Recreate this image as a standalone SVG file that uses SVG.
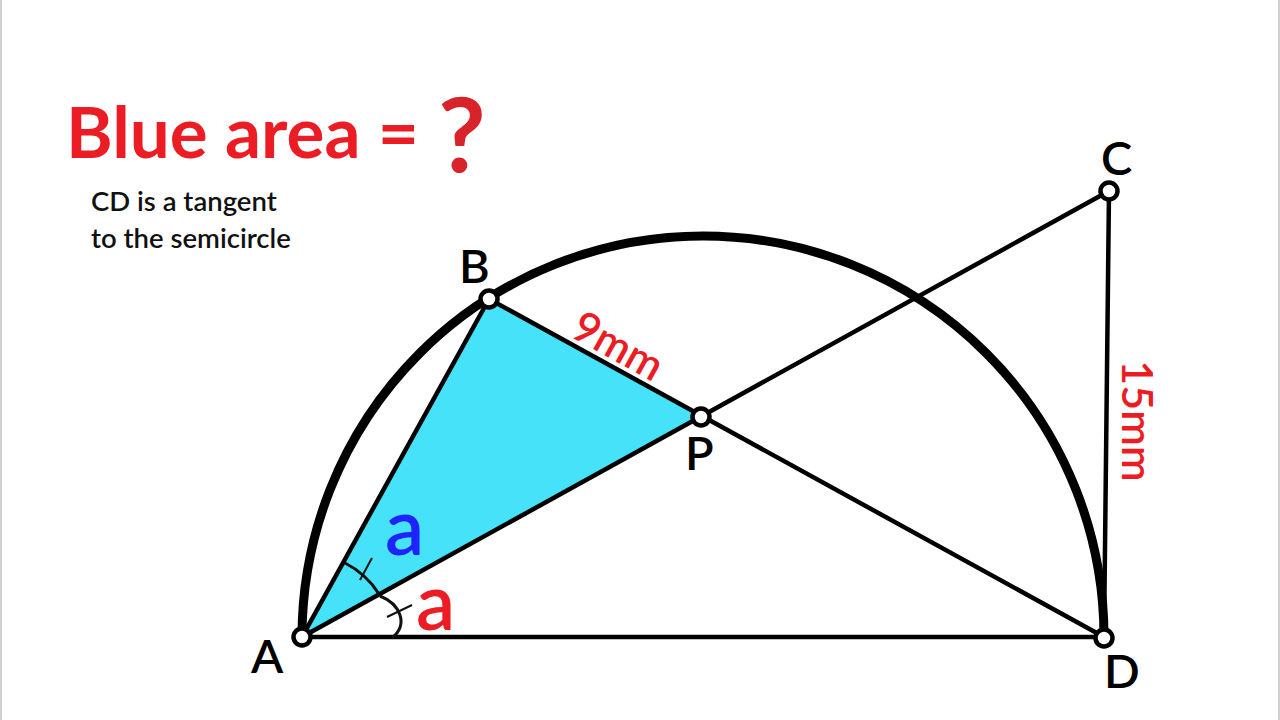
<svg xmlns="http://www.w3.org/2000/svg" width="1280" height="720" viewBox="0 0 1280 720">
<style>
.ln{stroke:#000;stroke-width:4.5;fill:none;stroke-linecap:round}
.pt{fill:#fff;stroke:#000;stroke-width:4.5}
.f{font-family:Lato,"Open Sans",sans-serif}
.lbl{font-family:Lato,"Open Sans",sans-serif;font-size:47px;font-weight:600;fill:#000}
.red{fill:#ec1c24}
</style>
<rect x="0" y="0" width="1280" height="720" fill="#fff"/>
<line x1="1" y1="0" x2="1" y2="720" stroke="#d0d0d0" stroke-width="2"/>
<line x1="1279" y1="0" x2="1279" y2="720" stroke="#d0d0d0" stroke-width="2"/>
<g id="title">
<text x="66" y="158" class="f red" font-weight="bold" font-size="71">Blue area =</text>
<text x="438" y="172" class="f" font-weight="bold" font-size="104" fill="#d9232b">?</text>
<text x="91" y="211" class="f" font-weight="600" font-size="27.5" fill="#111">CD is a tangent</text>
<text x="91" y="248" class="f" font-weight="600" font-size="27.5" fill="#111">to the semicircle</text>
</g>
<g id="blue-triangle">
<polygon points="302,637 489,299 701,417" fill="#45e2fa"/>
</g>
<g id="connectors">
<path d="M302,637 A401,401 0 0 1 1104,637" fill="none" stroke="#000" stroke-width="9"/>
<line class="ln" x1="302" y1="637" x2="1104" y2="637"/>
<line class="ln" x1="302" y1="637" x2="489" y2="299"/>
<line class="ln" x1="489" y1="299" x2="1104" y2="637"/>
<line class="ln" x1="302" y1="637" x2="1109" y2="191"/>
<line class="ln" x1="1109" y1="191" x2="1104" y2="637"/>
<path d="M345,563 A86,86 0 0 1 379,594" fill="none" stroke="#111" stroke-width="3"/>
<path d="M380,596 C400,604 409,624 392,638" fill="none" stroke="#111" stroke-width="3"/>
<line x1="360" y1="580" x2="372" y2="558" stroke="#111" stroke-width="2"/>
<line x1="387" y1="617" x2="412" y2="605" stroke="#111" stroke-width="2"/>
</g>
<g id="A"><circle class="pt" cx="302" cy="637" r="8.5"/><text class="lbl" x="251" y="673">A</text></g>
<g id="B"><circle class="pt" cx="489" cy="299" r="8.5"/><text class="lbl" x="459" y="283">B</text></g>
<g id="P"><circle class="pt" cx="701" cy="417" r="8.5"/><text class="lbl" x="685" y="470">P</text></g>
<g id="C"><circle class="pt" cx="1109" cy="191" r="8.5"/><text class="lbl" x="1101" y="175">C</text></g>
<g id="D"><circle class="pt" cx="1104" cy="638" r="8.5"/><text class="lbl" x="1104" y="688">D</text></g>
<g id="labels">
<text transform="translate(611,359) rotate(29)" text-anchor="middle" class="f red" font-weight="600" font-size="43">9mm</text>
<text transform="translate(1122,421) rotate(90)" text-anchor="middle" class="f red" font-weight="600" font-size="43">15mm</text>
<text x="385" y="555" class="f" font-weight="600" font-size="78" fill="#1f23ff">a</text>
<text x="416" y="630" class="f red" font-weight="600" font-size="78">a</text>
</g>
</svg>
